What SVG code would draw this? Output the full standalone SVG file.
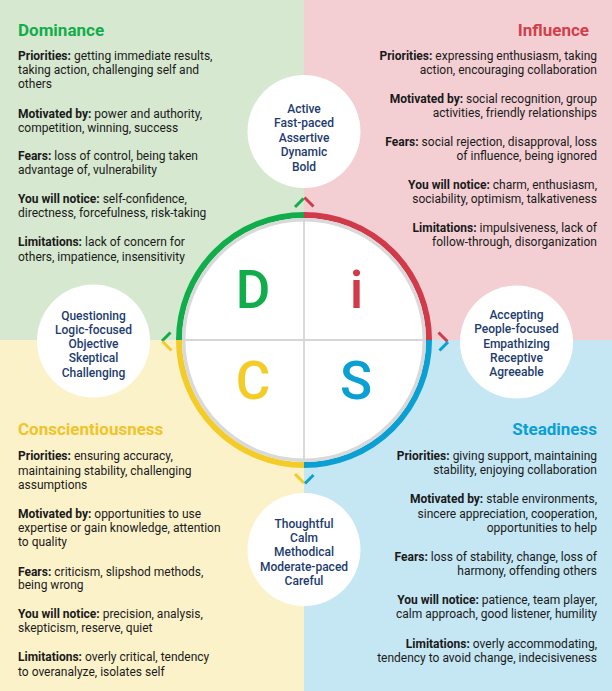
<svg xmlns="http://www.w3.org/2000/svg" width="612" height="691" viewBox="0 0 612 691">
<style>
.body{font-family:Roboto,"Liberation Sans",sans-serif;font-size:12px;fill:#1a1a1a}
.body tspan.b{font-weight:700}
.r{text-anchor:end}
.title{font-family:Roboto,"Liberation Sans",sans-serif;font-size:17px;font-weight:700}
.ctext{font-family:Roboto,"Liberation Sans",sans-serif;font-size:12px;font-weight:500;fill:#1d3c6e;text-anchor:middle}
.big{font-family:Roboto,"Liberation Sans",sans-serif;font-size:53px;font-weight:500;text-anchor:middle}
.sc{fill:#ffffff}
.chev{stroke-width:3;fill:none}
</style>
<g id="backgrounds">
<rect x="0" y="0" width="304" height="340" fill="#d6e8cf"/>
<rect x="304" y="0" width="308" height="340" fill="#f3cfd4"/>
<rect x="0" y="340" width="304" height="351" fill="#fcf2ca"/>
<rect x="304" y="340" width="308" height="351" fill="#c5e6f3"/>
</g>
<g id="dominance">
<text class="title" x="18" y="35.5" fill="#12ad4b">Dominance</text>
<text class="body" x="18" y="59.5"><tspan class="b">Priorities:</tspan> getting immediate results,</text>
<text class="body" x="18" y="73.5">taking action, challenging self and</text>
<text class="body" x="18" y="87.5">others</text>
<text class="body" x="18" y="117.5"><tspan class="b">Motivated by:</tspan> power and authority,</text>
<text class="body" x="18" y="131.5">competition, winning, success</text>
<text class="body" x="18" y="160"><tspan class="b">Fears:</tspan> loss of control, being taken</text>
<text class="body" x="18" y="174">advantage of, vulnerability</text>
<text class="body" x="18" y="203"><tspan class="b">You will notice:</tspan> self-confidence,</text>
<text class="body" x="18" y="217">directness, forcefulness, risk-taking</text>
<text class="body" x="18" y="246"><tspan class="b">Limitations:</tspan> lack of concern for</text>
<text class="body" x="18" y="260.5">others, impatience, insensitivity</text>
</g>
<g id="influence">
<text class="title r" x="589" y="35.5" fill="#d13f4a">Influence</text>
<text class="body r" x="597" y="59.5"><tspan class="b">Priorities:</tspan> expressing enthusiasm, taking</text>
<text class="body r" x="597" y="73.5">action, encouraging collaboration</text>
<text class="body r" x="597" y="102.5"><tspan class="b">Motivated by:</tspan> social recognition, group</text>
<text class="body r" x="597" y="117">activities, friendly relationships</text>
<text class="body r" x="597" y="146"><tspan class="b">Fears:</tspan> social rejection, disapproval, loss</text>
<text class="body r" x="597" y="160">of influence, being ignored</text>
<text class="body r" x="597" y="188.5"><tspan class="b">You will notice:</tspan> charm, enthusiasm,</text>
<text class="body r" x="597" y="203">sociability, optimism, talkativeness</text>
<text class="body r" x="597" y="232"><tspan class="b">Limitations:</tspan> impulsiveness, lack of</text>
<text class="body r" x="597" y="246">follow-through, disorganization</text>
</g>
<g id="conscientiousness">
<text class="title" x="18" y="435" fill="#efc42a">Conscientiousness</text>
<text class="body" x="18" y="460"><tspan class="b">Priorities:</tspan> ensuring accuracy,</text>
<text class="body" x="18" y="474.5">maintaining stability, challenging</text>
<text class="body" x="18" y="489">assumptions</text>
<text class="body" x="18" y="517.5"><tspan class="b">Motivated by:</tspan> opportunities to use</text>
<text class="body" x="18" y="532">expertise or gain knowledge, attention</text>
<text class="body" x="18" y="546">to quality</text>
<text class="body" x="18" y="576"><tspan class="b">Fears:</tspan> criticism, slipshod methods,</text>
<text class="body" x="18" y="589">being wrong</text>
<text class="body" x="18" y="617.5"><tspan class="b">You will notice:</tspan> precision, analysis,</text>
<text class="body" x="18" y="632">skepticism, reserve, quiet</text>
<text class="body" x="18" y="661"><tspan class="b">Limitations:</tspan> overly critical, tendency</text>
<text class="body" x="18" y="675.5">to overanalyze, isolates self</text>
</g>
<g id="steadiness">
<text class="title r" x="597" y="435" fill="#0a9fd5">Steadiness</text>
<text class="body r" x="597" y="460"><tspan class="b">Priorities:</tspan> giving support, maintaining</text>
<text class="body r" x="597" y="474">stability, enjoying collaboration</text>
<text class="body r" x="597" y="503"><tspan class="b">Motivated by:</tspan> stable environments,</text>
<text class="body r" x="597" y="517.5">sincere appreciation, cooperation,</text>
<text class="body r" x="597" y="532">opportunities to help</text>
<text class="body r" x="597" y="561"><tspan class="b">Fears:</tspan> loss of stability, change, loss of</text>
<text class="body r" x="597" y="575">harmony, offending others</text>
<text class="body r" x="597" y="604"><tspan class="b">You will notice:</tspan> patience, team player,</text>
<text class="body r" x="597" y="617.5">calm approach, good listener, humility</text>
<text class="body r" x="597" y="647.5"><tspan class="b">Limitations:</tspan> overly accommodating,</text>
<text class="body r" x="597" y="661.5">tendency to avoid change, indecisiveness</text>
</g>
<g id="disc-wheel">
<circle cx="304" cy="340" r="124" fill="#ffffff"/>
<path d="M179,340 A125,125 0 0 1 304,215" stroke="#12ad4b" stroke-width="6" fill="none"/>
<path d="M304,215 A125,125 0 0 1 429,340" stroke="#d13a48" stroke-width="6" fill="none"/>
<path d="M429,340 A125,125 0 0 1 304,465" stroke="#0aa0d4" stroke-width="6" fill="none"/>
<path d="M304,465 A125,125 0 0 1 179,340" stroke="#f3cc28" stroke-width="6" fill="none"/>
<circle cx="304" cy="340" r="120.3" fill="none" stroke="#d9d9d9" stroke-width="3.5"/>
<line x1="304" y1="219" x2="304" y2="461" stroke="#d6d6d6" stroke-width="1.8"/>
<line x1="183" y1="340" x2="425" y2="340" stroke="#d6d6d6" stroke-width="1.8"/>
<text class="big" x="253" y="308" fill="#12ad4b">D</text>
<text class="big" x="356.5" y="308" fill="#d13a48">i</text>
<text class="big" x="253" y="399" fill="#f3cc28">C</text>
<text class="big" x="356" y="399" fill="#0aa0d4">S</text>
</g>
<g id="circle-top">
<circle class="sc" cx="304" cy="131.5" r="56.5"/>
<text class="ctext" x="304" y="112.5">Active</text>
<text class="ctext" x="304" y="127">Fast-paced</text>
<text class="ctext" x="304" y="141.5">Assertive</text>
<text class="ctext" x="304" y="155.5">Dynamic</text>
<text class="ctext" x="304" y="170.5">Bold</text>
</g>
<g id="circle-left">
<circle class="sc" cx="93.5" cy="341" r="56.5"/>
<text class="ctext" x="93.5" y="319.5">Questioning</text>
<text class="ctext" x="93.5" y="333.8">Logic-focused</text>
<text class="ctext" x="93.5" y="348">Objective</text>
<text class="ctext" x="93.5" y="362.3">Skeptical</text>
<text class="ctext" x="93.5" y="376.6">Challenging</text>
</g>
<g id="circle-right">
<circle class="sc" cx="516.5" cy="342" r="56.5"/>
<text class="ctext" x="516.5" y="318.5">Accepting</text>
<text class="ctext" x="516.5" y="333">People-focused</text>
<text class="ctext" x="516.5" y="347.5">Empathizing</text>
<text class="ctext" x="516.5" y="362">Receptive</text>
<text class="ctext" x="516.5" y="376">Agreeable</text>
</g>
<g id="circle-bottom">
<circle class="sc" cx="304" cy="549.5" r="56.5"/>
<text class="ctext" x="304" y="527.5">Thoughtful</text>
<text class="ctext" x="304" y="542">Calm</text>
<text class="ctext" x="304" y="556">Methodical</text>
<text class="ctext" x="304" y="570.5">Moderate-paced</text>
<text class="ctext" x="304" y="585">Careful</text>
</g>
<g id="connectors">
<path class="chev" d="M295,207 L303.5,198.5" stroke="#12ad4b"/>
<path class="chev" d="M304.5,197.5 L313.5,206.5" stroke="#d13a48"/>
<path class="chev" d="M170.5,332.5 L162,341" stroke="#12ad4b"/>
<path class="chev" d="M162.5,341.5 L171.5,350.5" stroke="#f3cc28"/>
<path class="chev" d="M438.5,332.5 L447.5,341.5" stroke="#d13a48"/>
<path class="chev" d="M448,342 L439.5,350.5" stroke="#0aa0d4"/>
<path class="chev" d="M295,474 L304,483" stroke="#f3cc28"/>
<path class="chev" d="M305,483.5 L313.5,475" stroke="#0aa0d4"/>
</g>
</svg>
